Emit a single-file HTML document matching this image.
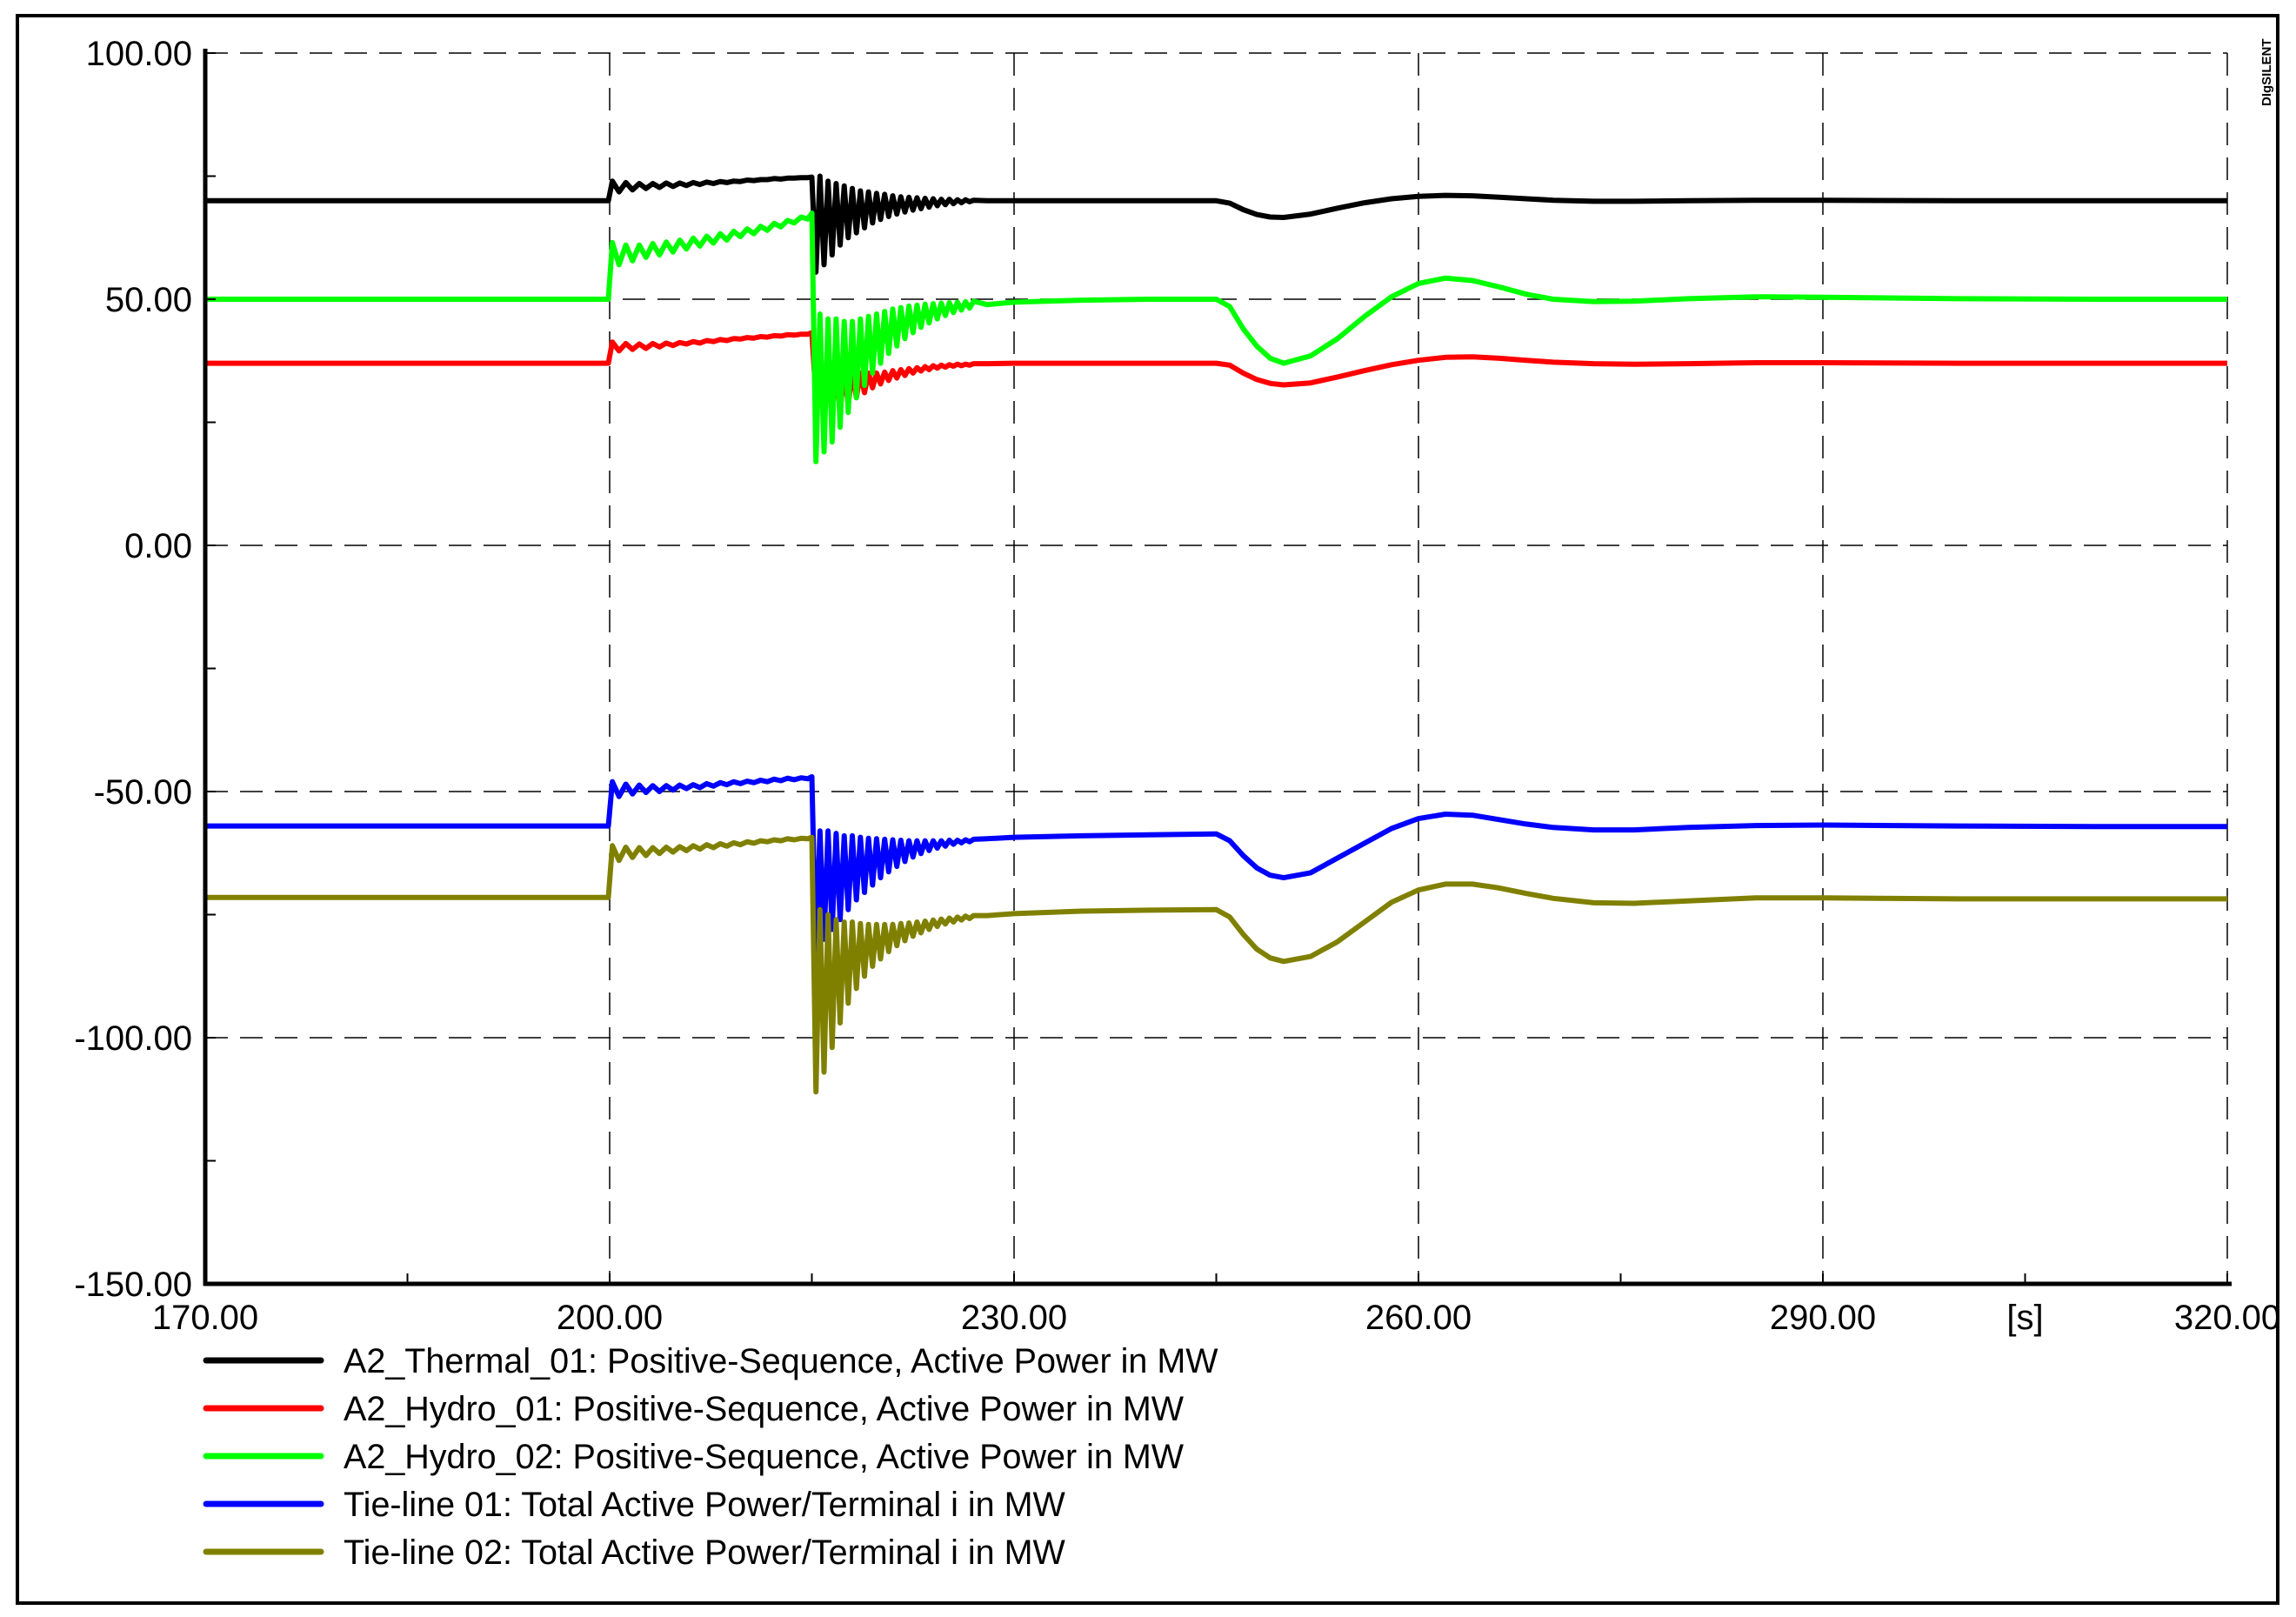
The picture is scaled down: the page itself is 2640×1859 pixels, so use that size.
<!DOCTYPE html>
<html><head><meta charset="utf-8"><style>
html,body{margin:0;padding:0;background:#fff;}
svg{display:block;font-family:"Liberation Sans",Arial,sans-serif;}
</style></head><body>
<svg id="chart" width="2640" height="1859" viewBox="0 0 2640 1859" xmlns="http://www.w3.org/2000/svg">
<rect x="20" y="18" width="2599" height="1825" fill="#fff" stroke="#000" stroke-width="4"/>
<g id="grid"></g>
<g id="series"></g>
<g id="axes"></g>
<g id="legend"></g>
<text transform="translate(2611,122) rotate(-90)" font-size="15" font-weight="bold">DIgSILENT</text>
</svg>
<script>
const xTicks = [170,200,230,260,290,320];
const yTicks = [100,50,0,-50,-100,-150];
const seriesNames = ["A2_Thermal_01: Positive-Sequence, Active Power in MW","A2_Hydro_01: Positive-Sequence, Active Power in MW","A2_Hydro_02: Positive-Sequence, Active Power in MW","Tie-line 01: Total Active Power/Terminal i in MW","Tie-line 02: Total Active Power/Terminal i in MW"];
const seriesColors = ["#000000","#ff0000","#00ff00","#0000ff","#808000"];
const times = [170,199.9,
200.2,200.7,201.2,201.7,202.2,202.7,203.2,203.7,204.2,204.7,205.2,205.7,206.2,206.7,207.2,207.7,208.2,208.7,209.2,209.7,210.2,210.7,211.2,211.7,212.2,212.7,213.2,213.7,214.2,214.7,
215.0,
215.3,215.6,215.9,216.2,216.5,216.8,217.1,217.4,217.7,218.0,218.3,218.6,218.9,219.2,219.5,219.8,220.1,220.4,220.7,221.0,221.3,221.6,221.9,222.2,222.5,222.8,223.1,223.4,223.7,224.0,224.3,224.6,224.9,225.2,225.5,225.8,226.1,226.4,226.7,227.0,
228,230,235,240,245,246,247,248,249,250,252,254,256,258,260,262,264,266,268,270,273,276,280,285,290,300,310,320];
const thermal = [70,70,
74.0,71.8,73.7,72.2,73.5,72.5,73.5,72.7,73.6,72.9,73.6,73.1,73.7,73.3,73.8,73.5,73.9,73.7,74.0,73.9,74.2,74.1,74.3,74.3,74.5,74.4,74.6,74.6,74.7,74.7,
74.8,
55.5,75,57,74,59,73.5,61,73,62.5,72.5,63.5,72,64.5,71.8,65.5,71.5,66.2,71.3,66.8,71,67.3,70.8,67.7,70.7,68.1,70.6,68.4,70.5,68.7,70.4,69,70.3,69.2,70.3,69.4,70.2,69.6,70.2,69.8,70.1,
70,70,70,70,70,69.5,68.2,67.2,66.7,66.6,67.3,68.5,69.6,70.4,70.9,71.1,71,70.7,70.4,70.1,69.9,69.9,70,70.1,70.1,70,70,70];
const hydro1 = [37,37,
41.3,39.5,41,39.8,40.9,40,41,40.3,41.1,40.6,41.2,40.9,41.4,41.1,41.6,41.4,41.8,41.6,42,41.9,42.2,42.1,42.4,42.3,42.6,42.5,42.8,42.7,42.9,42.9,
43.2,
30,40,27,38,26,37,27,36,28.5,35.5,30,35,31,35,32,35,32.8,35.2,33.5,35.5,34,35.7,34.5,35.9,35,36.1,35.4,36.3,35.7,36.5,36,36.6,36.2,36.7,36.4,36.8,36.5,36.8,36.6,36.9,
36.9,37,37,37,37,36.6,35,33.7,32.9,32.6,33,34.2,35.5,36.7,37.6,38.2,38.3,38,37.6,37.2,36.9,36.8,36.9,37.1,37.1,37,37,37];
const hydro2 = [50,50,
61.5,57,61,57.8,61,58.5,61.3,59,61.6,59.6,62,60.2,62.4,60.8,62.8,61.4,63.3,62,63.8,62.7,64.3,63.3,64.8,64,65.4,64.7,66,65.5,66.7,66.3,
67.5,
17,47,19,46,21,46,24,45.5,27,45.5,30,46,32.5,46.5,35,47,37,47.5,39,48,40.5,48.3,42,48.6,43.2,48.8,44.3,49,45.2,49.1,46,49.2,46.7,49.3,47.3,49.4,47.8,49.5,48.2,49.6,
48.9,49.4,49.8,50,50,48.5,44,40.5,38,37,38.5,42,46.5,50.5,53.2,54.3,53.8,52.5,51,50,49.5,49.6,50.1,50.5,50.4,50.1,50,50];
const tie1 = [-57,-57,
-48,-51,-48.5,-50.5,-48.7,-50.2,-48.8,-50,-48.8,-49.7,-48.7,-49.4,-48.6,-49.2,-48.4,-48.9,-48.2,-48.6,-48,-48.4,-47.9,-48.2,-47.7,-48,-47.5,-47.8,-47.3,-47.6,-47.2,-47.4,
-47,
-84,-58,-80,-58,-78,-58.5,-76,-59,-74,-59,-72,-59.3,-70.5,-59.5,-69,-59.6,-67.5,-59.7,-66.3,-59.8,-65.2,-59.9,-64.2,-60,-63.3,-60,-62.6,-60,-62,-60,-61.5,-60,-61.1,-59.9,-60.7,-59.9,-60.4,-59.8,-60.2,-59.7,
-59.6,-59.3,-59,-58.8,-58.6,-60,-63,-65.5,-67,-67.5,-66.5,-63.5,-60.5,-57.5,-55.5,-54.6,-54.8,-55.7,-56.6,-57.3,-57.8,-57.8,-57.3,-56.9,-56.8,-57,-57.1,-57.1];
const tie2 = [-71.5,-71.5,
-61,-64,-61.3,-63.4,-61.4,-63,-61.4,-62.6,-61.3,-62.3,-61.2,-62,-61,-61.7,-60.8,-61.4,-60.6,-61.1,-60.4,-60.8,-60.2,-60.5,-60,-60.2,-59.8,-60,-59.6,-59.8,-59.5,-59.6,
-59.3,
-111,-74,-107,-75,-102,-76,-97,-76.5,-93,-76.5,-90,-76.8,-87.5,-77,-85.5,-77,-84,-77,-82.5,-77,-81.3,-76.8,-80.3,-76.7,-79.4,-76.5,-78.7,-76.3,-78,-76.1,-77.4,-75.9,-76.9,-75.7,-76.5,-75.5,-76.1,-75.3,-75.8,-75.2,
-75.2,-74.8,-74.3,-74.1,-74,-75.5,-79,-82,-83.8,-84.5,-83.5,-80.5,-76.5,-72.5,-70,-68.8,-68.8,-69.6,-70.7,-71.7,-72.6,-72.7,-72.2,-71.6,-71.6,-71.8,-71.8,-71.8];

const NS='http://www.w3.org/2000/svg';
const X0=236,X1=2561,Y0=61,Y1=1476;
const xs=t=>X0+(t-170)/(320-170)*(X1-X0);
const ys=v=>Y0+(100-v)/(100+150)*(Y1-Y0);
function mk(tag,attrs,parent){const e=document.createElementNS(NS,tag);for(const k in attrs)e.setAttribute(k,attrs[k]);parent.appendChild(e);return e;}
const grid=document.getElementById('grid'),axes=document.getElementById('axes'),ser=document.getElementById('series'),leg=document.getElementById('legend');
xTicks.forEach(t=>{if(t===170)return;
  const l=mk('line',{x1:xs(t),x2:xs(t),y1:Y0,y2:Y1,stroke:'#000','stroke-width':1.5,'stroke-dasharray':'26,14'},grid);
  
  });
yTicks.forEach(v=>{if(v===-150)return;
  const l=mk('line',{x1:X0,x2:X1,y1:ys(v),y2:ys(v),stroke:'#000','stroke-width':1.5,'stroke-dasharray':'26,14'},grid);
  
  });
const data=[thermal,hydro1,hydro2,tie1,tie2];
data.forEach((vals,i)=>{
  const d=vals.map((v,j)=>(j?'L':'M')+xs(times[j]).toFixed(1)+','+ys(v).toFixed(1)).join('');
  const p=mk('path',{d:d,fill:'none',stroke:seriesColors[i],'stroke-width':6,'stroke-linejoin':'round'},ser);
  
  
});
const ya=mk('line',{x1:X0,x2:X0,y1:Y0-5,y2:Y1+2,stroke:'#000','stroke-width':5},axes);


const xa=mk('line',{x1:X0-2,x2:X1+5,y1:Y1,y2:Y1,stroke:'#000','stroke-width':5},axes);


for(let v=100;v>-150;v-=25){const t=mk('line',{x1:X0,x2:X0+12,y1:ys(v),y2:ys(v),stroke:'#000','stroke-width':2},axes);
  
  }
for(let s=185;s<=320;s+=15){const t=mk('line',{x1:xs(s),x2:xs(s),y1:Y1,y2:Y1-12,stroke:'#000','stroke-width':2},axes);
  
  }
yTicks.forEach(v=>{const t=mk('text',{x:221,y:ys(v)+14,'text-anchor':'end','font-size':40},axes);t.textContent=v.toFixed(2);
  
  });
xTicks.forEach(v=>{const t=mk('text',{x:xs(v),y:1528,'text-anchor':'middle','font-size':40},axes);t.textContent=v.toFixed(2);
  
  });
const u=mk('text',{x:xs(305),y:1528,'text-anchor':'middle','font-size':40},axes);u.textContent='[s]';


seriesNames.forEach((n,i)=>{const y=1564+i*55;
  const l=mk('line',{x1:237,x2:369,y1:y,y2:y,stroke:seriesColors[i],'stroke-width':7,'stroke-linecap':'round'},leg);
  
  
  const t=mk('text',{x:395,y:y+14,'font-size':39.5},leg);t.textContent=n;
  
  });
</script>
</body></html>
